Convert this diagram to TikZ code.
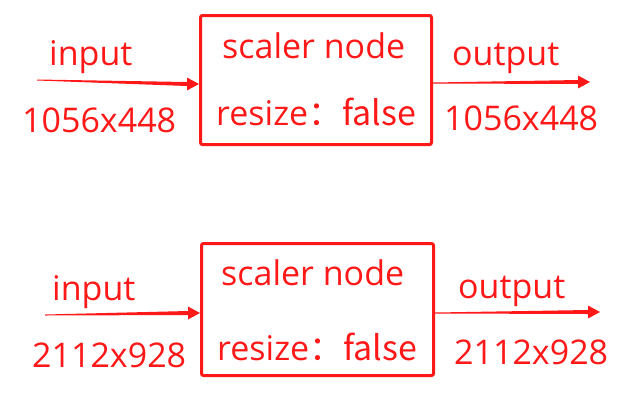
\documentclass[tikz,border=0pt]{standalone}
\usepackage{fontspec}
\setmainfont{Open Sans}
\newfontfamily\cjk{Noto Sans CJK SC}
\usetikzlibrary{calc}
\definecolor{rd}{RGB}{255,24,24}
\tikzset{
  lbl/.style={text=rd, inner sep=0pt, anchor=base west, font=\fontsize{34}{40}\selectfont},
  boxnode/.style={draw=rd, line width=3pt, rounded corners=2pt, inner sep=0pt},
}
\newcommand\taperarrow[2]{\fill[rd] let \p1=(#1), \p2=(#2) in
  (\x1,\y1+0.5) -- (\x2-12,\y2+2) -- (\x2-12,\y2+6.5) -- (\x2,\y2) -- (\x2-12,\y2-6.5) -- (\x2-12,\y2-2) -- (\x1,\y1-0.5) -- cycle;}
\begin{document}
\begin{tikzpicture}[x=1pt,y=-1pt]
\useasboundingbox (0,0) rectangle (640,400);
% row 1
\node[boxnode, minimum width=231pt, minimum height=129pt] (b1) at (316,80) {};
\node[lbl] (t1a) at (222,58) {scaler node};
\node[lbl] (t1b) at (216,125) {resize\cjk{：}false};
\node[lbl] (in1) at (49,65) {input};
\node[lbl] (s1) at (22,132) {1056x448};
\node[lbl] (out1) at (452,65) {output};
\node[lbl] (s1o) at (444,130) {1056x448};
\coordinate (i1s) at (37,80);
\coordinate (o1e) at (590,82);
\coordinate (i1t) at ($(b1.west)+(0,4)$);
\coordinate (o1s) at ($(b1.east)+(0,3)$);
\taperarrow{i1s}{i1t}
\taperarrow{o1s}{o1e}
% row 2
\node[boxnode, minimum width=232pt, minimum height=132pt] (b2) at (317.5,309.5) {};
\node[lbl] (t2a) at (221,285) {scaler node};
\node[lbl] (t2b) at (217,360) {resize\cjk{：}false};
\node[lbl] (in2) at (52,300) {input};
\node[lbl] (s2) at (32,367) {2112x928};
\node[lbl] (out2) at (458,298) {output};
\node[lbl] (s2o) at (454,364) {2112x928};
\coordinate (i2s) at (45,315);
\coordinate (o2e) at (600,312);
\coordinate (i2t) at ($(b2.west)+(0,3.5)$);
\coordinate (o2s) at ($(b2.east)+(0,3.5)$);
\taperarrow{i2s}{i2t}
\taperarrow{o2s}{o2e}
\end{tikzpicture}
\end{document}
